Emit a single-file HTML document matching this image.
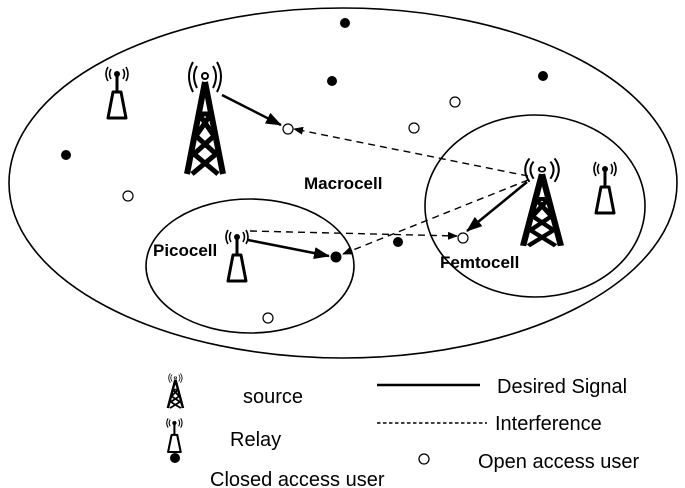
<!DOCTYPE html>
<html><head><meta charset="utf-8"><style>html,body{margin:0;padding:0;background:#fff}svg{display:block}text{font-family:"Liberation Sans",sans-serif}</style></head>
<body>
<svg width="685" height="488" viewBox="0 0 685 488" xmlns="http://www.w3.org/2000/svg">
<defs>
<g id="tower">
 <circle cx="20" cy="12" r="3" fill="none" stroke="#000" stroke-width="2"/>
 <path d="M12 2 Q6 12 12 24 M28 2 Q34 12 28 24 M8 -2 Q0 12 8 28 M32 -2 Q40 12 32 28" fill="none" stroke="#000" stroke-width="2"/>
 <path d="M20 18 L2 110 M20 18 L38 110" stroke="#000" stroke-width="6" fill="none"/>
 <path d="M14 50 L29 72 L9 90 L33 110 M26 50 L11 72 L31 90 L7 110 M14 50 L26 50" stroke="#000" stroke-width="5" fill="none"/>
</g>
<g id="relay">
 <circle cx="12" cy="6" r="3" fill="#000"/>
 <path d="M6 1 Q3 6 6 11 M18 1 Q21 6 18 11 M3 -1 Q-1 6 3 13 M21 -1 Q25 6 21 13" fill="none" stroke="#000" stroke-width="1.6"/>
 <path d="M12 8 L12 24" stroke="#000" stroke-width="3"/>
 <path d="M8 24 L16 24 L21 50 L3 50 Z" fill="#fff" stroke="#000" stroke-width="3" stroke-linejoin="round"/>
</g>
<marker id="ah" markerWidth="10" markerHeight="8" refX="9" refY="4" orient="auto" markerUnits="userSpaceOnUse"><path d="M0 0 L10 4 L0 8 Z" fill="#000"/></marker>
<marker id="ab" markerWidth="16" markerHeight="12" refX="15" refY="6" orient="auto" markerUnits="userSpaceOnUse"><path d="M0 0 L16 6 L0 12 Z" fill="#000"/></marker>
</defs>
<ellipse cx="343" cy="183" rx="334" ry="175" fill="none" stroke="#000" stroke-width="1.6"/>
<ellipse cx="250" cy="266" rx="104" ry="67" fill="none" stroke="#000" stroke-width="1.6"/>
<ellipse cx="535" cy="206" rx="110" ry="91" fill="none" stroke="#000" stroke-width="1.6"/>

<use href="#tower" transform="translate(185,64)"/>
<use href="#tower" transform="translate(521,160) scale(1.05,0.78)"/>
<use href="#relay" transform="translate(105,68)"/>
<use href="#relay" transform="translate(225,231)"/>
<use href="#relay" transform="translate(593,163)"/>

<g fill="#000">
<circle cx="345" cy="23" r="5"/><circle cx="332" cy="81" r="5"/><circle cx="543" cy="76" r="5"/>
<circle cx="66" cy="155" r="5"/><circle cx="398" cy="242" r="5"/><circle cx="336" cy="257" r="5.5"/>
</g>
<g fill="#fff" stroke="#000" stroke-width="1.2">
<circle cx="455" cy="102" r="5"/><circle cx="414" cy="128" r="5"/><circle cx="288" cy="129" r="5"/>
<circle cx="128" cy="196" r="5"/><circle cx="463" cy="238" r="5"/><circle cx="268" cy="318" r="5"/>
</g>

<g stroke="#000" stroke-width="2.5" fill="none">
<line x1="222" y1="95" x2="281" y2="125" marker-end="url(#ab)"/>
<line x1="527" y1="182" x2="467" y2="231" marker-end="url(#ab)"/>
<line x1="248" y1="240" x2="329" y2="256" marker-end="url(#ab)"/>
</g>
<g stroke="#000" stroke-width="1.4" stroke-dasharray="7,5" fill="none">
<line x1="528" y1="176" x2="294" y2="129" marker-end="url(#ah)"/>
<line x1="528" y1="180" x2="343" y2="254" marker-end="url(#ah)"/>
<line x1="250" y1="231" x2="457" y2="236" marker-end="url(#ah)"/>
</g>

<g font-weight="bold" font-size="17">
<text x="304" y="189">Macrocell</text>
<text x="153" y="256">Picocell</text>
<text x="440" y="268">Femtocell</text>
</g>

<use href="#tower" transform="translate(167,374) scale(0.42,0.31)"/>
<use href="#relay" transform="translate(166,419) scale(0.7,0.66)"/>
<circle cx="175" cy="458" r="5" fill="#000"/>
<circle cx="424" cy="459" r="5" fill="#fff" stroke="#000" stroke-width="1.3"/>
<line x1="377" y1="385" x2="480" y2="385" stroke="#000" stroke-width="2.4"/>
<line x1="377" y1="423" x2="487" y2="423" stroke="#000" stroke-width="1.4" stroke-dasharray="3.5,2.5"/>
<g font-size="20">
<text x="243" y="403">source</text>
<text x="230" y="446">Relay</text>
<text x="210" y="486">Closed access user</text>
<text x="497" y="393">Desired Signal</text>
<text x="495" y="430">Interference</text>
<text x="478" y="468">Open access user</text>
</g>
</svg>
</body></html>
